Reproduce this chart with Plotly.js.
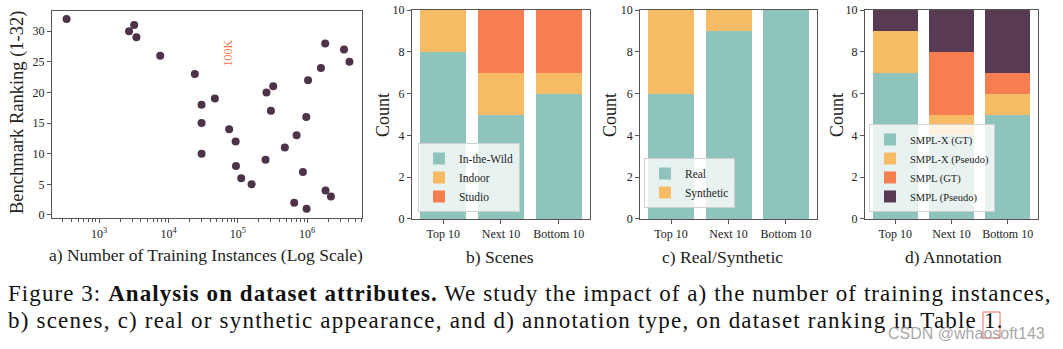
<!DOCTYPE html>
<html><head><meta charset="utf-8">
<script src="https://cdn.plot.ly/plotly-3.0.1.min.js"></script>
<style>
body{margin:0;background:#fff}#c{width:1063px;height:349px}
g.annotation[data-index="9"] text{letter-spacing:1.07px}
g.annotation[data-index="10"] text{letter-spacing:1.2px}
</style>
</head><body><div id="c"></div>
<script>
// ---- data ----
const trainInstances = [339, 2700, 3200, 3450, 7600, 24000, 30000, 30000, 30000, 46700, 75000, 93000, 94000, 112000, 158000, 251000, 259000, 300000, 324000, 476000, 650000, 705000, 868000, 970000, 980000, 1030000, 1580000, 1820000, 1840000, 2200000, 3400000, 4070000];
const ranking = [32, 30, 31, 29, 26, 23, 18, 15, 10, 19, 14, 12, 8, 6, 5, 9, 20, 17, 21, 11, 2, 13, 7, 16, 1, 22, 24, 28, 4, 3, 27, 25];
const threshold = 100000;
const logTickVals = [1e3, 1e4, 1e5, 1e6];
const logTickText = ['10<sup>3</sup>', '10<sup>4</sup>', '10<sup>5</sup>', '10<sup>6</sup>'];
const groups = ['Top 10', 'Next 10', 'Bottom 10'];
const sceneInTheWild = [8, 5, 6];
const sceneIndoor = [2, 2, 1];
const sceneStudio = [0, 3, 3];
const realCount = [6, 9, 10];
const syntheticCount = [4, 1, 0];
const smplxGT = [7, 4, 5];
const smplxPseudo = [2, 1, 1];
const smplGT = [0, 3, 1];
const smplPseudo = [1, 2, 3];

const TEAL = '#8ec4bb', YEL = '#f8bb65', ORG = '#f77e50', PUR = '#583a53';
const SERIF = 'Liberation Serif, Times New Roman, serif';
const AX = '#555';

// minor tick positions for the log axis (2..9 within each decade)
const minorTicks = [];
for (let d = 2; d <= 6; d++) for (let m = 2; m <= 9; m++) minorTicks.push(m * Math.pow(10, d));

function bar(x, y, name, color, xa, ya, lg) {
  return {type: 'bar', x: x, y: y, name: name, marker: {color: color, line: {width: 0}},
    xaxis: xa, yaxis: ya, legend: lg};
}

const traces = [
  {type: 'scatter', mode: 'markers', x: trainInstances, y: ranking, name: 'Dataset',
   marker: {color: '#4d3249', size: 8}, xaxis: 'x', yaxis: 'y', legend: 'legend'},
  bar(groups, sceneInTheWild, 'In-the-Wild', TEAL, 'x2', 'y2', 'legend2'),
  bar(groups, sceneIndoor, 'Indoor', YEL, 'x2', 'y2', 'legend2'),
  bar(groups, sceneStudio, 'Studio', ORG, 'x2', 'y2', 'legend2'),
  bar(groups, realCount, 'Real', TEAL, 'x3', 'y3', 'legend3'),
  bar(groups, syntheticCount, 'Synthetic', YEL, 'x3', 'y3', 'legend3'),
  bar(groups, smplxGT, 'SMPL-X (GT)', TEAL, 'x4', 'y4', 'legend4'),
  bar(groups, smplxPseudo, 'SMPL-X (Pseudo)', YEL, 'x4', 'y4', 'legend4'),
  bar(groups, smplGT, 'SMPL (GT)', ORG, 'x4', 'y4', 'legend4'),
  bar(groups, smplPseudo, 'SMPL (Pseudo)', PUR, 'x4', 'y4', 'legend4')
];

const YD = [0.3725, 0.9713];
function barX(dom, anchor) {
  return {domain: dom, anchor: anchor, range: [-0.54, 2.54], showline: true, mirror: true, linecolor: AX,
    linewidth: 1, ticks: 'outside', ticklen: 4, tickcolor: AX, showgrid: false,
    tickfont: {family: SERIF, size: 12, color: '#222'}};
}
function barY(anchor) {
  return {domain: YD, anchor: anchor, range: [0, 10], dtick: 2, showline: true, mirror: true, linecolor: AX,
    linewidth: 1, ticks: 'outside', ticklen: 4, tickcolor: AX, showgrid: false, zeroline: false,
    tickfont: {family: SERIF, size: 12, color: '#222'}};
}
function leg(x, y, size) {
  return {x: x, y: y, xanchor: 'left', yanchor: 'bottom', bgcolor: 'rgba(255,255,255,0.8)',
    bordercolor: '#d0d0d0', borderwidth: 1, font: {family: SERIF, size: size, color: '#222'},
    traceorder: 'normal', itemclick: false};
}
function ann(text, x, y, size, extra) {
  return Object.assign({text: text, x: x, y: y, xref: 'paper', yref: 'paper', showarrow: false,
    xanchor: 'center', yanchor: 'middle', font: {family: SERIF, size: size, color: '#222'}}, extra || {});
}

const layout = {
  width: 1063, height: 349, margin: {l: 0, r: 0, t: 0, b: 0},
  paper_bgcolor: '#fff', plot_bgcolor: '#fff', barmode: 'stack', bargap: 0.2,
  font: {family: SERIF, color: '#222'},
  xaxis: {domain: [0.0489, 0.3405], anchor: 'y', type: 'log', range: [2.32, 6.79],
    tickmode: 'array', tickvals: logTickVals, ticktext: logTickText,
    showline: true, mirror: true, linecolor: AX, linewidth: 1,
    ticks: 'outside', ticklen: 4.5, tickcolor: AX, showgrid: false, zeroline: false,
    tickfont: {family: SERIF, size: 12, color: '#222'},
    minor: {ticks: 'outside', ticklen: 3, tickcolor: AX, tickmode: 'array', tickvals: minorTicks, showgrid: false}},
  yaxis: {domain: [0.3754, 0.9685], anchor: 'x', range: [-0.5, 33.3], dtick: 5, showline: true, mirror: true,
    linecolor: AX, linewidth: 1, ticks: 'outside', ticklen: 4, tickcolor: AX, showgrid: false, zeroline: false,
    tickfont: {family: SERIF, size: 12, color: '#222'}},
  xaxis2: barX([0.3876, 0.555], 'y2'), yaxis2: barY('x2'),
  xaxis3: barX([0.6021, 0.7686], 'y3'), yaxis3: barY('x3'),
  xaxis4: barX([0.8137, 0.9765], 'y4'), yaxis4: barY('x4'),
  legend: leg(0.0536, 0.392, 10),
  legend2: leg(0.3932, 0.3926, 11.5),
  legend3: leg(0.6058, 0.404, 11.5),
  legend4: leg(0.8175, 0.3926, 10.5),
  shapes: [
    {type: 'line', xref: 'x', yref: 'y domain', x0: Math.log10(threshold), x1: Math.log10(threshold), y0: 0, y1: 1,
     line: {color: '#f58a64', width: 1, dash: 'dash'}},
    {type: 'rect', xref: 'paper', yref: 'paper', x0: 983/1063, x1: 1000/1063, y0: 1 - 338/349, y1: 1 - 312/349,
     line: {color: '#f06a6a', width: 1}}
  ],
  annotations: [
    {text: '100K', x: Math.log10(threshold), y: 26.5, xref: 'x', yref: 'y', xshift: -10, showarrow: false,
     textangle: -90, font: {family: SERIF, size: 12, color: '#f47c52'}},
    ann('Benchmark Ranking (1-32)', 17/1063, 1 - 113/349, 18.5, {textangle: -90}),
    ann('a) Number of Training Instances (Log Scale)', 206/1063, 1 - 255/349, 17.5),
    ann('Count', 383/1063, 1 - 115/349, 18, {textangle: -90}),
    ann('b) Scenes', 500/1063, 1 - 257/349, 17.5),
    ann('Count', 610/1063, 1 - 115/349, 18, {textangle: -90}),
    ann('c) Real/Synthetic', 722/1063, 1 - 257/349, 17.5),
    ann('Count', 837/1063, 1 - 115/349, 18, {textangle: -90}),
    ann('d) Annotation', 953/1063, 1 - 257/349, 17.5),
    ann('Figure 3: <b>Analysis on dataset attributes.</b> We study the impact of a) the number of training instances,',
      8/1063, 1 - 293/349, 23, {xanchor: 'left', font: {family: SERIF, size: 23, color: '#111'}}),
    ann('b) scenes, c) real or synthetic appearance, and d) annotation type, on dataset ranking in Table 1.',
      8/1063, 1 - 320/349, 23, {xanchor: 'left', font: {family: SERIF, size: 23, color: '#111'}}),
    ann('CSDN @whaosoft143', 1047/1063, 1 - 333/349, 16,
      {xanchor: 'right', font: {family: 'Liberation Sans, Arial, sans-serif', size: 16, color: 'rgba(150,150,150,0.85)'}})
  ]
};

Plotly.newPlot('c', traces, layout, {displayModeBar: false, staticPlot: true}).then(function () {
  // keep the letter-spaced caption lines anchored at the left margin
  [9, 10].forEach(function (i) {
    const t = document.querySelector('g.annotation[data-index="' + i + '"] text');
    if (!t) return;
    const left = t.getBoundingClientRect().left - document.getElementById('c').getBoundingClientRect().left;
    const prev = t.getAttribute('transform') || '';
    t.setAttribute('transform', prev + ' translate(' + (8 - left) + ',0)');
  });
});
</script>
</body></html>
